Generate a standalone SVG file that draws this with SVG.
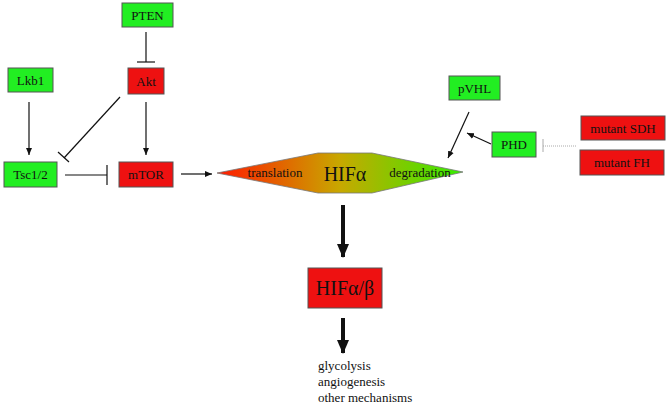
<svg xmlns="http://www.w3.org/2000/svg" width="667" height="406" viewBox="0 0 667 406">
<style>
.g{fill:#22ee22;stroke:#555;stroke-width:1}
.r{fill:#ee1111;stroke:#555;stroke-width:1}
text{font-family:"Liberation Serif","Times New Roman",serif;fill:#111}
.t{font-size:13px;text-anchor:middle}
.ln{stroke:#111;stroke-width:1.2;fill:none}
</style>
<defs>
<marker id="a" markerWidth="8" markerHeight="8" refX="7" refY="4" orient="auto" markerUnits="userSpaceOnUse"><path d="M0,1 L7,4 L0,7 Z" fill="#111"/></marker>
<marker id="b" markerWidth="14" markerHeight="16" refX="13" refY="8" orient="auto" markerUnits="userSpaceOnUse"><path d="M0,2 L14,8 L0,14 Z" fill="#111"/></marker>
<linearGradient id="hg" x1="0" y1="0" x2="1" y2="0">
<stop offset="0" stop-color="#ff1a00"/>
<stop offset="0.5" stop-color="#c8a800"/>
<stop offset="1" stop-color="#33ee00"/>
</linearGradient>
</defs>
<rect width="667" height="406" fill="#fff"/>
<g id="connectors">
<line class="ln" x1="146" y1="32" x2="146" y2="62"/>
<line class="ln" x1="137" y1="62" x2="155" y2="62"/>
<line class="ln" x1="29" y1="102" x2="29" y2="155" marker-end="url(#a)"/>
<line class="ln" x1="146" y1="102" x2="146" y2="155" marker-end="url(#a)"/>
<line class="ln" x1="120" y1="97" x2="64" y2="158"/>
<line class="ln" x1="58" y1="152" x2="69" y2="162"/>
<line class="ln" x1="65" y1="175" x2="107" y2="175"/>
<line class="ln" x1="107" y1="165" x2="107" y2="185"/>
<line class="ln" x1="181" y1="174" x2="212" y2="174" marker-end="url(#a)"/>
<line class="ln" x1="469" y1="112" x2="448" y2="158" marker-end="url(#a)"/>
<line class="ln" x1="491" y1="144" x2="467" y2="133" marker-end="url(#a)"/>
<line x1="543" y1="146" x2="577" y2="146" stroke="#aaa" stroke-width="1" stroke-dasharray="1,1"/>
<line x1="543" y1="139" x2="543" y2="152" stroke="#aaa" stroke-width="1"/>
<line x1="343" y1="205" x2="343" y2="257" stroke="#111" stroke-width="4" marker-end="url(#b)"/>
<line x1="343" y1="318" x2="343" y2="353" stroke="#111" stroke-width="4" marker-end="url(#b)"/>
</g>
<g id="PTEN"><rect class="g" x="122" y="3" width="51" height="24"/><text class="t" x="147.5" y="19.5">PTEN</text></g>
<g id="Lkb1"><rect class="g" x="8" y="68" width="45" height="24"/><text class="t" x="30.5" y="84.5">Lkb1</text></g>
<g id="Akt"><rect class="r" x="128" y="68" width="36" height="26"/><text class="t" x="146" y="85.5">Akt</text></g>
<g id="Tsc"><rect class="g" x="4" y="162" width="53" height="25"/><text class="t" x="30.5" y="179">Tsc1/2</text></g>
<g id="mTOR"><rect class="r" x="119" y="162" width="54" height="25"/><text class="t" x="146" y="179">mTOR</text></g>
<g id="HIF">
<polygon points="217,173 318,153 372,153 463,172 372,193 318,193" fill="url(#hg)" stroke="#777" stroke-width="0.8"/>
<text class="t" x="275" y="177">translation</text>
<text x="345" y="181" font-size="20" text-anchor="middle">HIFα</text>
<text class="t" x="420" y="177">degradation</text>
</g>
<g id="pVHL"><rect class="g" x="449" y="76" width="51" height="24"/><text class="t" x="474.5" y="92.5">pVHL</text></g>
<g id="PHD"><rect class="g" x="492" y="132" width="44" height="25"/><text class="t" x="514" y="149">PHD</text></g>
<g id="SDH"><rect class="r" x="581" y="116" width="84" height="24"/><text class="t" x="623" y="132.5">mutant SDH</text></g>
<g id="FH"><rect class="r" x="580" y="150" width="84" height="25"/><text class="t" x="622" y="167">mutant FH</text></g>
<g id="HIFab"><rect class="r" x="308" y="268" width="74" height="40"/><text x="345" y="295" font-size="20" text-anchor="middle">HIFα/β</text></g>
<g id="outcomes">
<text x="318" y="370" font-size="13">glycolysis</text>
<text x="318" y="386" font-size="13">angiogenesis</text>
<text x="318" y="402" font-size="13">other mechanisms</text>
</g>
</svg>
